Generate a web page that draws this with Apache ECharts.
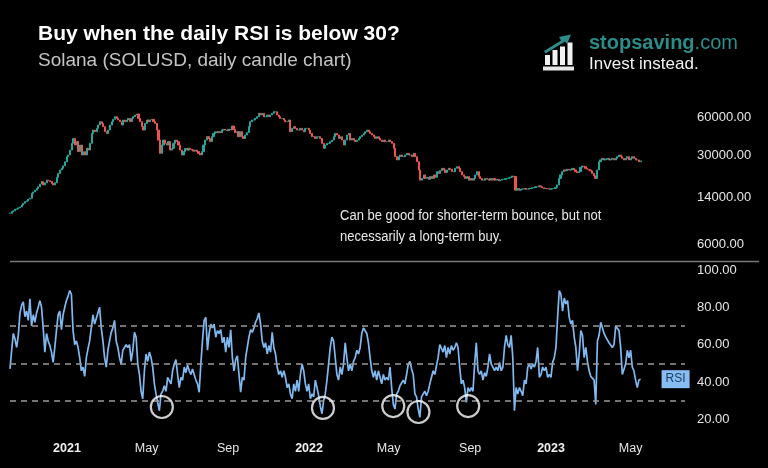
<!DOCTYPE html>
<html><head><meta charset="utf-8">
<script src="https://cdn.jsdelivr.net/npm/echarts/dist/echarts.min.js"></script>
<style>html,body{margin:0;padding:0;background:#000;}#c{width:768px;height:468px;}</style>
</head><body><div id="c"></div>
<script>
// ---- data ----
const startDate = '2020-10-07';
const endDate = '2023-05-16';
const priceClose = [
10600,10900,11100,11400,11500,11700,11900,12300,12700,13100,
13300,13700,13900,15200,15600,16100,16600,17100,18000,18800,
17700,18400,19300,19100,18800,18200,17700,18400,20300,21800,
23200,23900,25000,26900,29500,30400,33200,37500,41000,36400,
38700,32300,36400,30400,32300,30400,34300,33200,37500,44900,
47700,46300,49200,52200,55500,53800,50700,46300,44900,47700,
52200,55500,57900,60700,58900,57200,55500,52200,57200,55500,
57200,58900,55500,58900,60700,62600,63700,58900,55500,50700,
47700,53800,57200,55500,57200,57900,55500,53800,47700,39800,
31300,36400,39800,37500,36400,38700,33200,34300,37500,39800,
38700,36400,33200,30400,32300,34300,33200,34300,33700,33200,
32600,33200,32300,31300,30400,32300,36400,39800,42300,41000,
38700,42300,44900,46300,45500,46300,45500,47700,48300,47700,
47200,48300,47700,51300,48300,45500,46300,42300,46300,42300,
41000,43600,45500,50700,55500,57200,
57200,58900,60700,64500,62600,64500,60700,60700,62600,60700,
62600,64500,66400,66400,62600,60700,58900,58900,57200,55500,
55500,57200,46300,49200,50700,49200,47700,47700,49200,47700,
46300,49200,49200,47700,44900,42300,42300,41000,42300,42300,
41000,37500,34300,36400,37500,37500,38700,39800,42300,44900,
43600,41000,42300,39800,36400,39800,43600,44900,39800,41000,
39800,38700,39800,41000,42300,43600,44900,46300,47700,46300,
44900,43600,42300,41000,42300,41000,39800,38700,39800,38700,
38700,39800,38700,37500,34300,29500,27800,29500,30400,29500,
29500,30400,31300,30400,30400,29500,31300,29500,26900,23200,
19300,19900,21200,19900,20300,19600,20600,19900,21200,20300,
22500,21800,22900,23900,23200,22100,23200,23900,23500,22500,
22500,23900,24600,23900,22500,21200,20600,19900,20600,19300,
19900,19300,19900,21200,22500,20600,19900,19300,19300,19900,
19600,19300,19900,19300,19900,19300,19600,19100,
19300,19600,19600,19800,19900,20200,20300,20800,20600,16100,
16600,16100,16300,16500,16600,16400,16400,16600,16600,16800,
16900,17100,17100,17400,17100,16800,16600,16600,16500,16400,
16400,16600,16600,16900,17700,19900,21200,22500,23200,22900,
23500,23200,23200,23900,23200,22500,22100,22500,24300,24900,
24600,23900,23500,23200,22800,21800,20800,19900,23200,26900,
27800,28600,27800,28100,28600,27800,28100,28600,27800,28600,
29500,30400,29500,28600,27800,28600,29500,27800,28600,29500,
28600,27800,27800,26900,27300
];
const rsiValues = [
47,57,66,63,58.5,65,77,81,83,75,78,73,84.5,70,76,72,77,80,83.6,80,69,
56,66,62,59.5,56,50.5,58.5,67.5,76,78,68,76,80,83.6,
86,89,87,
67.5,60,62,58.5,53,46,48,43,53,57.7,62,69,76,71,74,74.6,80,69,62,53,48,57,62,66.6,69,73,62,58.5,53,49.6,
57,58.5,60,58.5,60,51,57,66.6,64,49.6,44,35,31,46,55,51,56,53,48,39,33.6,29,24.6,33.6,35,38,35,42.5,
43,39,46,49.6,52,44,37,42.5,41,48,45,49,46,44,47,46,41,39,34.5,49.6,62,73,74.6,57,66,71,69,71,64,67.5,
66,68,61,64,56,64,58.5,68,53,46,52,54,44,34.5,42.5,41,53,58.5,64,68,66.6,69,72,74,77,71,62,58.5,61,55,
59.5,56,66.6,58.5,55,48,44,46,42.5,46,42.5,37,39,33.6,31,39,35,41,35,44,49.6,46,39,35,39,31,33.6,32,41,
37,32.7,27,23,30,33.6,41,49.6,58.5,64,
62,53,44,41,48,44,49.6,61,53,46,49.6,46,51,53,57,55,58.5,66,69,
70,66,61,53,46,42.5,46,41,46,42.5,39,44,41,42.5,41,
48,37,28,25.5,33.6,35,38,37,41,39,44,49.6,51,47,44,33.6,32,25.5,21,32,33.6,35,32.7,35,39,42.5,46,44,48.8,
53,60,61,56,59.5,53,58.5,55,59.5,57,58.5,61,58.5,48,39,41,37,29,37,35,37,35,49.6,61,46,44,46,41,45,43,
48,55,49.6,48,46,48,46,
50.5,46,48,58.5,65,60,58.5,65,53,24.6,37,33.6,37,35,32.7,41,39,48,49.6,47,49.6,48,51,
58.5,42.5,44,48,
46,48,42.5,44,42.5,50.5,53,58.5,74.6,89,87,78,85,81.8,83.6,74.6,71,73,64,58.5,46,55,67.5,65,53,58.5,51,
46,43,42.5,41,28,62,65,72,71,66,64,63,61,62,58.5,60,70,71,67.5,58.5,44,44,49.6,57,53,57,48,46,41,37,41,41.5
];
const circleDates = ['2021-05-24','2022-01-22','2022-05-08','2022-06-15','2022-08-29'];
const circleValues = [26.6,26.1,27.1,23.9,27.1];
const priceTicks = [6000,14000,30000,60000];
const rsiLevels = [70,50,30];
const dateTicks = ['2021-01-01','2021-05-01','2021-09-01','2022-01-01','2022-05-01','2022-09-01','2023-01-01','2023-05-01'];
const monthNames = ['Jan','Feb','Mar','Apr','May','Jun','Jul','Aug','Sep','Oct','Nov','Dec'];

// ---- build ----
const toTime = s => new Date(s + 'T00:00:00').getTime();
const t0 = toTime(startDate), t1 = toTime(endDate);
const sampleTime = (i, n) => t0 + i * (t1 - t0) / (n - 1);

const candles = priceClose.map((c, i) => {
  const o = i ? priceClose[i - 1] : c;
  return [sampleTime(i, priceClose.length), o, c, Math.min(o, c), Math.max(o, c)];
});
const rsiLine = rsiValues.map((v, i) => [sampleTime(i, rsiValues.length), v]);
const circles = circleDates.map((d, i) => [toTime(d), circleValues[i]]);

const AX_FONT = '"Liberation Sans", Arial, sans-serif';
const NOTE_FONT = '15.5px "Liberation Sans", Arial, sans-serif';
const xBase = {
  type: 'value', min: toTime('2020-10-07'), max: toTime('2023-07-22'),
  axisLine: {show: false}, axisTick: {show: false}, splitLine: {show: false}
};
const teal = '#2b8c89';

const chart = echarts.init(document.getElementById('c'));
chart.setOption({
  backgroundColor: '#000',
  animation: false,
  grid: [
    {left: 10, right: 83, top: 94.9, height: 160},
    {left: 10, right: 83, top: 270, height: 149.3}
  ],
  xAxis: [
    Object.assign({}, xBase, {gridIndex: 0, axisLabel: {show: false}}),
    Object.assign({}, xBase, {gridIndex: 1, axisLabel: {
      show: true, customValues: dateTicks.map(toTime), margin: 23,
      color: '#e6e6e6', fontSize: 12.5, fontFamily: AX_FONT,
      formatter: v => { const d = new Date(v); return d.getMonth() === 0 ? '{y|' + d.getFullYear() + '}' : monthNames[d.getMonth()]; },
      rich: {y: {fontWeight: 'bold', fontSize: 12.5, color: '#f0f0f0', fontFamily: AX_FONT}}
    }})
  ],
  yAxis: [
    {type: 'log', logBase: 10, gridIndex: 0, position: 'right', min: 5000, max: 90000,
     axisLine: {show: false}, axisTick: {show: false}, splitLine: {show: false},
     axisLabel: {customValues: priceTicks, margin: 12, color: '#e6e6e6', fontSize: 13, fontFamily: AX_FONT,
       formatter: v => Math.round(v).toFixed(2)}},
    {type: 'value', gridIndex: 1, position: 'right', min: 20, max: 100, interval: 20,
     axisLine: {show: false}, axisTick: {show: false}, splitLine: {show: false},
     axisLabel: {margin: 12, color: '#e6e6e6', fontSize: 13, fontFamily: AX_FONT,
       formatter: v => v.toFixed(2)}}
  ],
  series: [
    {type: 'candlestick', xAxisIndex: 0, yAxisIndex: 0, data: candles, barWidth: 1.6,
     itemStyle: {color: '#26a69a', color0: '#ef5350', borderColor: '#26a69a', borderColor0: '#ef5350', borderWidth: 1}},
    {type: 'line', xAxisIndex: 1, yAxisIndex: 1, data: rsiLine, showSymbol: false, z: 3,
     lineStyle: {color: '#80b8f0', width: 1.7},
     endLabel: {show: true, formatter: 'RSI', distance: 21, backgroundColor: '#86bdf2', color: '#1b3a5c',
       padding: [3, 4, 3, 4], fontSize: 12, fontFamily: AX_FONT},
     markLine: {silent: true, symbol: ['none', 'none'], label: {show: false},
       lineStyle: {color: '#9a9a9a', type: [6, 5], width: 1.5},
       data: rsiLevels.map(v => ({yAxis: v}))}},
    {type: 'scatter', xAxisIndex: 1, yAxisIndex: 1, data: circles, symbol: 'circle', symbolSize: 22, z: 5,
     itemStyle: {color: 'rgba(0,0,0,0)', borderColor: '#ffffff', borderWidth: 2.2}}
  ],
  graphic: [
    {type: 'text', x: 38, y: 34, style: {text: 'Buy when the daily RSI is below 30?', fill: '#ffffff',
      font: 'bold 21px "Liberation Sans", Arial, sans-serif', verticalAlign: 'middle'}},
    {type: 'text', x: 38, y: 60.5, style: {text: 'Solana (SOLUSD, daily candle chart)', fill: '#c4c4c4',
      font: '19px "Liberation Sans", Arial, sans-serif', verticalAlign: 'middle'}},
    {type: 'text', x: 589, y: 43, style: {text: '{b|stopsaving}{r|.com}', verticalAlign: 'middle',
      rich: {b: {fill: teal, font: 'bold 20px "Liberation Sans", Arial, sans-serif'},
             r: {fill: teal, font: '20px "Liberation Sans", Arial, sans-serif'}}}},
    {type: 'text', x: 589, y: 64.5, style: {text: 'Invest instead.', fill: '#f2f2f2',
      font: '17px "Liberation Sans", Arial, sans-serif', verticalAlign: 'middle'}},
    {type: 'rect', shape: {x: 545, y: 55, width: 5, height: 10}, style: {fill: '#f2f2f2'}},
    {type: 'rect', shape: {x: 552.5, y: 50, width: 5, height: 15}, style: {fill: '#f2f2f2'}},
    {type: 'rect', shape: {x: 560, y: 46.5, width: 5, height: 18.5}, style: {fill: '#f2f2f2'}},
    {type: 'rect', shape: {x: 567.5, y: 42.5, width: 5, height: 22.5}, style: {fill: '#f2f2f2'}},
    {type: 'rect', shape: {x: 543, y: 66.5, width: 31, height: 4}, style: {fill: '#e6e6e6'}},
    {type: 'polygon', shape: {points: [[544, 51], [561, 40.5], [559, 37], [571, 34.5], [567, 44], [565, 41.5], [545.5, 53.5]]},
      style: {fill: teal}},
    {type: 'text', x: 340, y: 216, scaleX: 0.84, style: {text: 'Can be good for shorter-term bounce, but not', fill: '#e8e8e8',
      font: NOTE_FONT, verticalAlign: 'middle'}},
    {type: 'text', x: 340, y: 236.5, scaleX: 0.84, style: {text: 'necessarily a long-term buy.', fill: '#e8e8e8',
      font: NOTE_FONT, verticalAlign: 'middle'}},
    {type: 'line', shape: {x1: 10, y1: 261.5, x2: 759, y2: 261.5}, style: {stroke: '#7a7a7a', lineWidth: 1.5}}
  ]
});
</script></body></html>
